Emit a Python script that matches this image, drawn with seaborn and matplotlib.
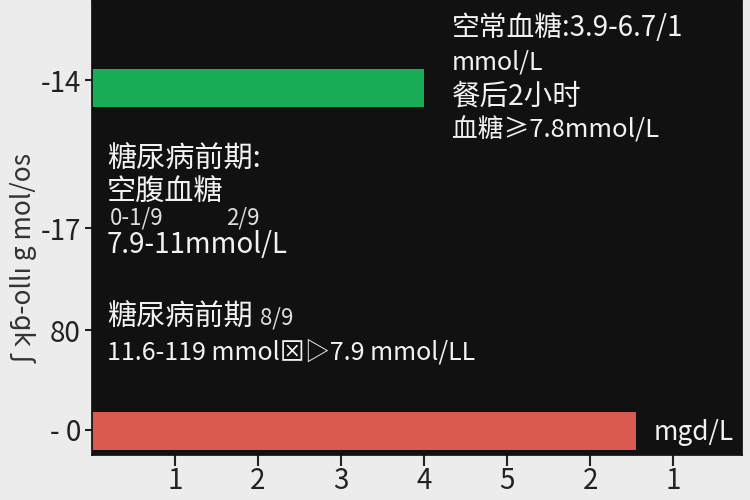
import pandas as pd
import seaborn as sns
import matplotlib.pyplot as plt

# bars (top to bottom)
categories = ["空腹正常", "糖尿病"]
values = [4.0, 6.55]
bar_colors = ["#19ad58", "#d95b4f"]

x_ticks = [1, 2, 3, 4, 5, 6, 7]
x_labels = ["1", "2", "3", "4", "5", "2", "1"]
y_ticks = [-0.023, 0.408, 0.706, 0.997]
y_labels = ["-14", "-17", "80", "- 0"]

sns.set_theme(style="ticks")
plt.rcParams["font.family"] = ["Noto Sans CJK SC", "DejaVu Sans"]

df = pd.DataFrame({"category": categories, "value": values})

fig = plt.figure(figsize=(7.5, 5), dpi=100, facecolor="#ececec")
ax = fig.add_axes([92 / 750, 45 / 500, 650 / 750, 455 / 500])
ax.set_facecolor("#111111")

sns.barplot(data=df, y="category", x="value", hue="category", order=categories,
            palette=bar_colors, width=0.11, legend=False, saturation=1,
            linewidth=0, ax=ax)

ax.set_xlim(0, 7.83)
ax.set_ylim(1.07, -0.257)
ax.set_xticks(x_ticks)
ax.set_xticklabels(x_labels, fontsize=20, color="#222222")
ax.set_yticks(y_ticks)
ax.set_yticklabels(y_labels, fontsize=20, color="#222222")
ax.tick_params(axis="x", length=8, width=1.5, color="#222222", pad=0)
ax.tick_params(axis="y", length=5, width=1.5, color="#222222", pad=3)
ax.set_xlabel("")
ax.set_ylabel("")
for s in ax.spines.values():
    s.set_color("#111111")


def px(x, y):
    return (x - 92) / 650, 1 - y / 455


txt = dict(color="#f2f2f2", va="center", ha="left", transform=ax.transAxes)
right_lines = [("空常血糖:3.9-6.7/1", 28, 20), ("mmol/L", 62, 18),
               ("餐后2小时", 97, 20.5), ("血糖≥7.8mmol/L", 130, 18.5)]
for s, y, fs in right_lines:
    ax.text(*px(452, y), s, fontsize=fs, **txt)

left_lines = [("糖尿病前期:", 160, 21), ("空腹血糖", 193, 21), ("7.9-11mmol/L", 245, 20),
              ("糖尿病前期", 318, 21), ("11.6-119 mmol⊠▷7.9 mmol/LL", 352, 18)]
for s, y, fs in left_lines:
    ax.text(*px(107, y), s, fontsize=fs, **txt)

faint = dict(color="#dddddd", va="center", ha="left", transform=ax.transAxes)
ax.text(*px(110, 218), "0-1/9", fontsize=16, **faint)
ax.text(*px(226, 218), "2/9", fontsize=16, **faint)
ax.text(*px(260, 318), "8/9", fontsize=16, **faint)
ax.text(*px(654, 432), "mgd/L", fontsize=19, **txt)

fig.text(24 / 750, 1 - 258 / 500, "ʃ ʞɓ-ollı g mol/os", rotation=90, fontsize=19,
         color="#333333", ha="center", va="center")

fig.savefig("out.png", dpi=100, facecolor=fig.get_facecolor())
